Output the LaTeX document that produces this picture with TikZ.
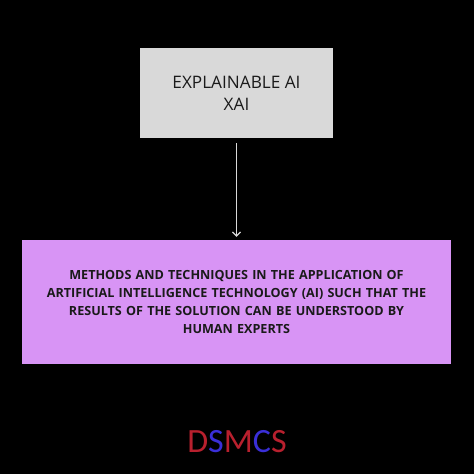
\documentclass[tikz,border=0pt]{standalone}
\usepackage{fontspec}
\setmainfont{Open Sans}
\newfontfamily\logofont{Carlito}
\usetikzlibrary{arrows.meta}
\definecolor{boxgray}{HTML}{D9D9D9}
\definecolor{boxpurple}{HTML}{D894F5}
\definecolor{txtdark}{HTML}{1A1A1A}
\definecolor{logored}{HTML}{B8202E}
\definecolor{logoblue}{HTML}{3A2FD8}
\tikzset{
  titlebox/.style={fill=boxgray, draw=none, minimum width=193pt, minimum height=90pt, align=center, font=\fontsize{17.2}{22}\selectfont, text=txtdark},
  descbox/.style={fill=boxpurple, draw=none, minimum width=429pt, minimum height=124pt, align=center, text width=420pt, font=\fontsize{12.6}{18}\selectfont\bfseries, text=txtdark},
  flowarrow/.style={draw=boxgray, line width=1.2pt, -{Straight Barb[length=4pt,width=8pt]}}
}
\begin{document}
\begin{tikzpicture}[x=1pt,y=-1pt]
\fill[black] (0,0) rectangle (474,474);
\useasboundingbox (0,0) rectangle (474,474);
\node[titlebox] (xai) at (236.5,93) {EXPLAINABLE AI\\XAI};
\node[descbox] (desc) at (236.5,302) {METHODS AND TECHNIQUES IN THE APPLICATION OF\\ARTIFICIAL INTELLIGENCE TECHNOLOGY (AI) SUCH THAT THE\\RESULTS OF THE SOLUTION CAN BE UNDERSTOOD BY\\HUMAN EXPERTS};
\draw[flowarrow] ([yshift=-5pt]xai.south) -- ([yshift=3pt]desc.north);
\node[font=\logofont\fontsize{34}{35}\selectfont] (logo) at (237,442) {\textcolor{logored}{D}\textcolor{logoblue}{S}\textcolor{logored}{M}\textcolor{logoblue}{C}\textcolor{logored}{S}};
\end{tikzpicture}
\end{document}
